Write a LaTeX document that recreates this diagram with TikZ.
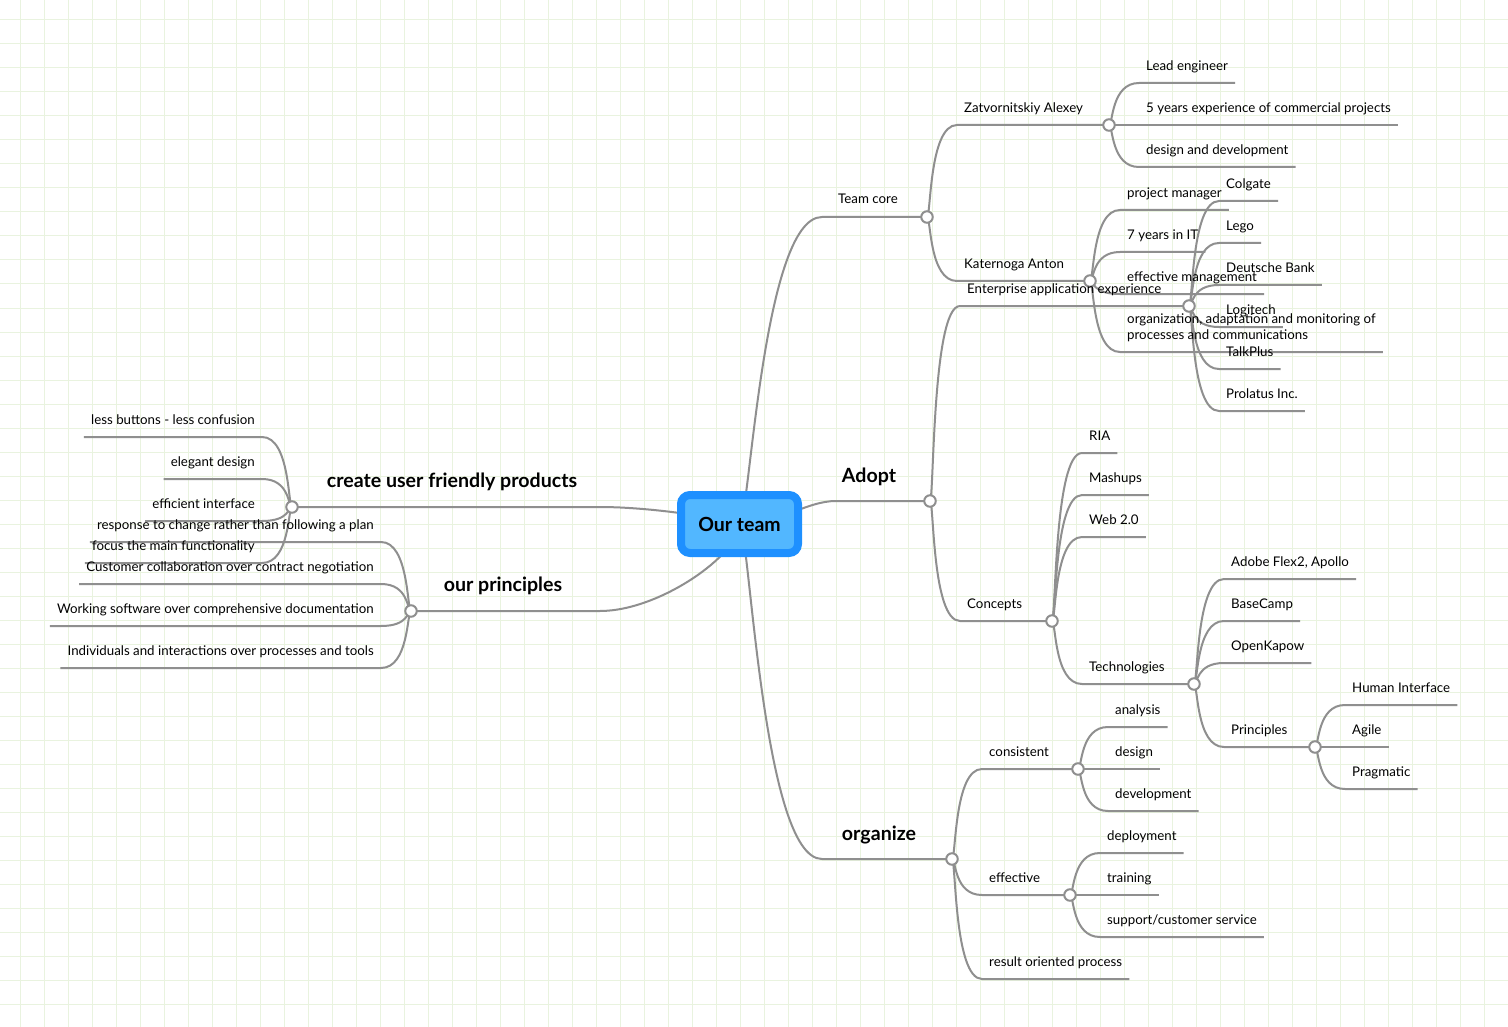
\documentclass[tikz,border=0pt]{standalone}
\usepackage{fontspec}
\setmainfont{Lato}
\definecolor{gridgreen}{RGB}{233,243,223}
\definecolor{branchgray}{RGB}{143,143,143}
\definecolor{hubblue}{RGB}{30,144,255}
\definecolor{hubfill}{RGB}{82,183,255}
\pgfdeclarelayer{back}
\pgfsetlayers{back,main}

\begin{document}
\begin{tikzpicture}[
        x=1pt, y=-1pt,
        hub/.style={draw=hubblue, fill=hubfill, line width=8pt, rounded corners=9pt, minimum width=117pt, minimum height=58pt, font=\fontsize{19.5}{22}\selectfont\bfseries},
        knot/.style={circle, draw=branchgray, fill=white, line width=2pt, minimum size=11.5pt, inner sep=0pt},
        leaf/.style={anchor=south west, align=left, inner xsep=7pt, inner ysep=12.5pt, text depth=0pt, font=\fontsize{13.3}{16}\selectfont},
        lleaf/.style={leaf, anchor=south east, align=right},
        major/.style={anchor=base, font=\fontsize{19.6}{22}\selectfont\bfseries},
        branch/.style={draw=branchgray, line width=2pt},
        rtwig/.style={branch, to path={.. controls +(4,0) and +(-28,0) .. (\tikztotarget)}},
        ltwig/.style={branch, to path={.. controls +(-4,0) and +(28,0) .. (\tikztotarget)}}
        ]
    \useasboundingbox (0,0) rectangle (1508,1027);
    \begin{pgfonlayer}{back}
        \fill[white] (0,0) rectangle (1508,1027);
        \foreach \g in {20,44,...,1508} \draw[gridgreen, line width=1pt] (\g,0) -- (\g,1027);
        \foreach \g in {20,44,...,1004} \draw[gridgreen, line width=1pt] (0,\g) -- (1508,\g);
    \end{pgfonlayer}

    % centre and main topics
    \node[hub] (hub) at (739.5,524) {Our team};
    \node[knot] (tcc) at (927,217) {};
    \node[knot] (adc) at (930,501) {};
    \node[knot] (orc) at (952,859) {};
    \node[knot] (cuc) at (292,507) {};
    \node[knot] (opc) at (411,611) {};
    \node[leaf, anchor=base] (tc) at (868,204) {Team core};
    \node[major] (ad) at (869,482) {Adopt};
    \node[major] (or) at (879,840) {organize};
    \node[major] (cu) at (452,487) {create user friendly products};
    \node[major] (op) at (503,591) {our principles};
    \coordinate (tc-b) at (822,217);
    \coordinate (ad-b) at (836,501);
    \coordinate (or-b) at (822,859);
    \coordinate (cu-b) at (600,507);
    \coordinate (op-b) at (600,611);
    \begin{pgfonlayer}{back}
        \draw[branch] (hub.center) .. controls +(10,0) and +(-60,0) .. (tc-b) -- (tcc.center);
        \draw[branch] (hub.center) .. controls +(40,0) and +(-30,0) .. (ad-b) -- (adc.center);
        \draw[branch] (hub.center) .. controls +(10,0) and +(-60,0) .. (or-b) -- (orc.center);
        \draw[branch] (hub.center) .. controls +(-40,-10) and +(40,0) .. (cu-b) -- (cuc.center);
        \draw[branch] (hub.center) .. controls +(0,30) and +(60,0) .. (op-b) -- (opc.center);
    \end{pgfonlayer}

    % sub topics with their own knot
    \foreach \p/\x/\i/\y/\c/\cx/\t in {tcc/957/za/125/zac/1109/Zatvornitskiy Alexey,
            tcc/957/ka/281/kac/1090/Katernoga Anton,
            adc/960/en/306/enc/1189/Enterprise application experience,
            adc/960/co/621/coc/1052/Concepts,
            coc/1082/te/684/tec/1194/Technologies,
            tec/1224/pr/747/prc/1315/Principles,
            orc/982/cs/769/csc/1078/consistent,
            orc/982/ef/895/efc/1070/effective}{
        \node[leaf] (\i) at (\x,\y) {\t};
        \node[knot] (\c) at (\cx,\y) {};
        \begin{pgfonlayer}{back}
            \draw[rtwig] (\p.center) to (\i.south west) -- (\c.center);
        \end{pgfonlayer}
    }

    % right leaves
    \foreach \p/\x/\i/\y/\t in {zac/1139/za1/83/Lead engineer,
            zac/1139/za2/125/5 years experience of commercial projects,
            zac/1139/za3/167/design and development,
            kac/1120/ka1/210/project manager,
            kac/1120/ka2/252/7 years in IT,
            kac/1120/ka3/294/effective management,
            kac/1120/ka4/352/{organization, adaptation and monitoring of\\processes and communications},
            enc/1219/en1/201/Colgate,
            enc/1219/en2/243/Lego,
            enc/1219/en3/285/Deutsche Bank,
            enc/1219/en4/327/Logitech,
            enc/1219/en5/369/TalkPlus,
            enc/1219/en6/411/Prolatus Inc.,
            coc/1082/co1/453/RIA,
            coc/1082/co2/495/Mashups,
            coc/1082/co3/537/Web 2.0,
            tec/1224/te1/579/{Adobe Flex2, Apollo},
            tec/1224/te2/621/BaseCamp,
            tec/1224/te3/663/OpenKapow,
            prc/1345/pr1/705/Human Interface,
            prc/1345/pr2/747/Agile,
            prc/1345/pr3/789/Pragmatic,
            csc/1108/cs1/727/analysis,
            csc/1108/cs2/769/design,
            csc/1108/cs3/811/development,
            efc/1100/ef1/853/deployment,
            efc/1100/ef2/895/training,
            efc/1100/ef3/937/{support/customer service},
            orc/982/or1/979/result oriented process}{
        \node[leaf] (\i) at (\x,\y) {\t};
        \begin{pgfonlayer}{back}
            \draw[rtwig] (\p.center) to (\i.south west) -- (\i.south east);
        \end{pgfonlayer}
    }

    % left leaves
    \foreach \p/\x/\i/\y/\t in {cuc/262/cu1/437/less buttons - less confusion,
            cuc/262/cu2/479/elegant design,
            cuc/262/cu3/521/efficient interface,
            cuc/262/cu4/563/focus the main functionality,
            opc/381/op1/542/response to change rather than following a plan,
            opc/381/op2/584/Customer collaboration over contract negotiation,
            opc/381/op3/626/Working software over comprehensive documentation,
            opc/381/op4/668/Individuals and interactions over processes and tools}{
        \node[lleaf] (\i) at (\x,\y) {\t};
        \begin{pgfonlayer}{back}
            \draw[ltwig] (\p.center) to (\i.south east) -- (\i.south west);
        \end{pgfonlayer}
    }
\end{tikzpicture}
\end{document}
